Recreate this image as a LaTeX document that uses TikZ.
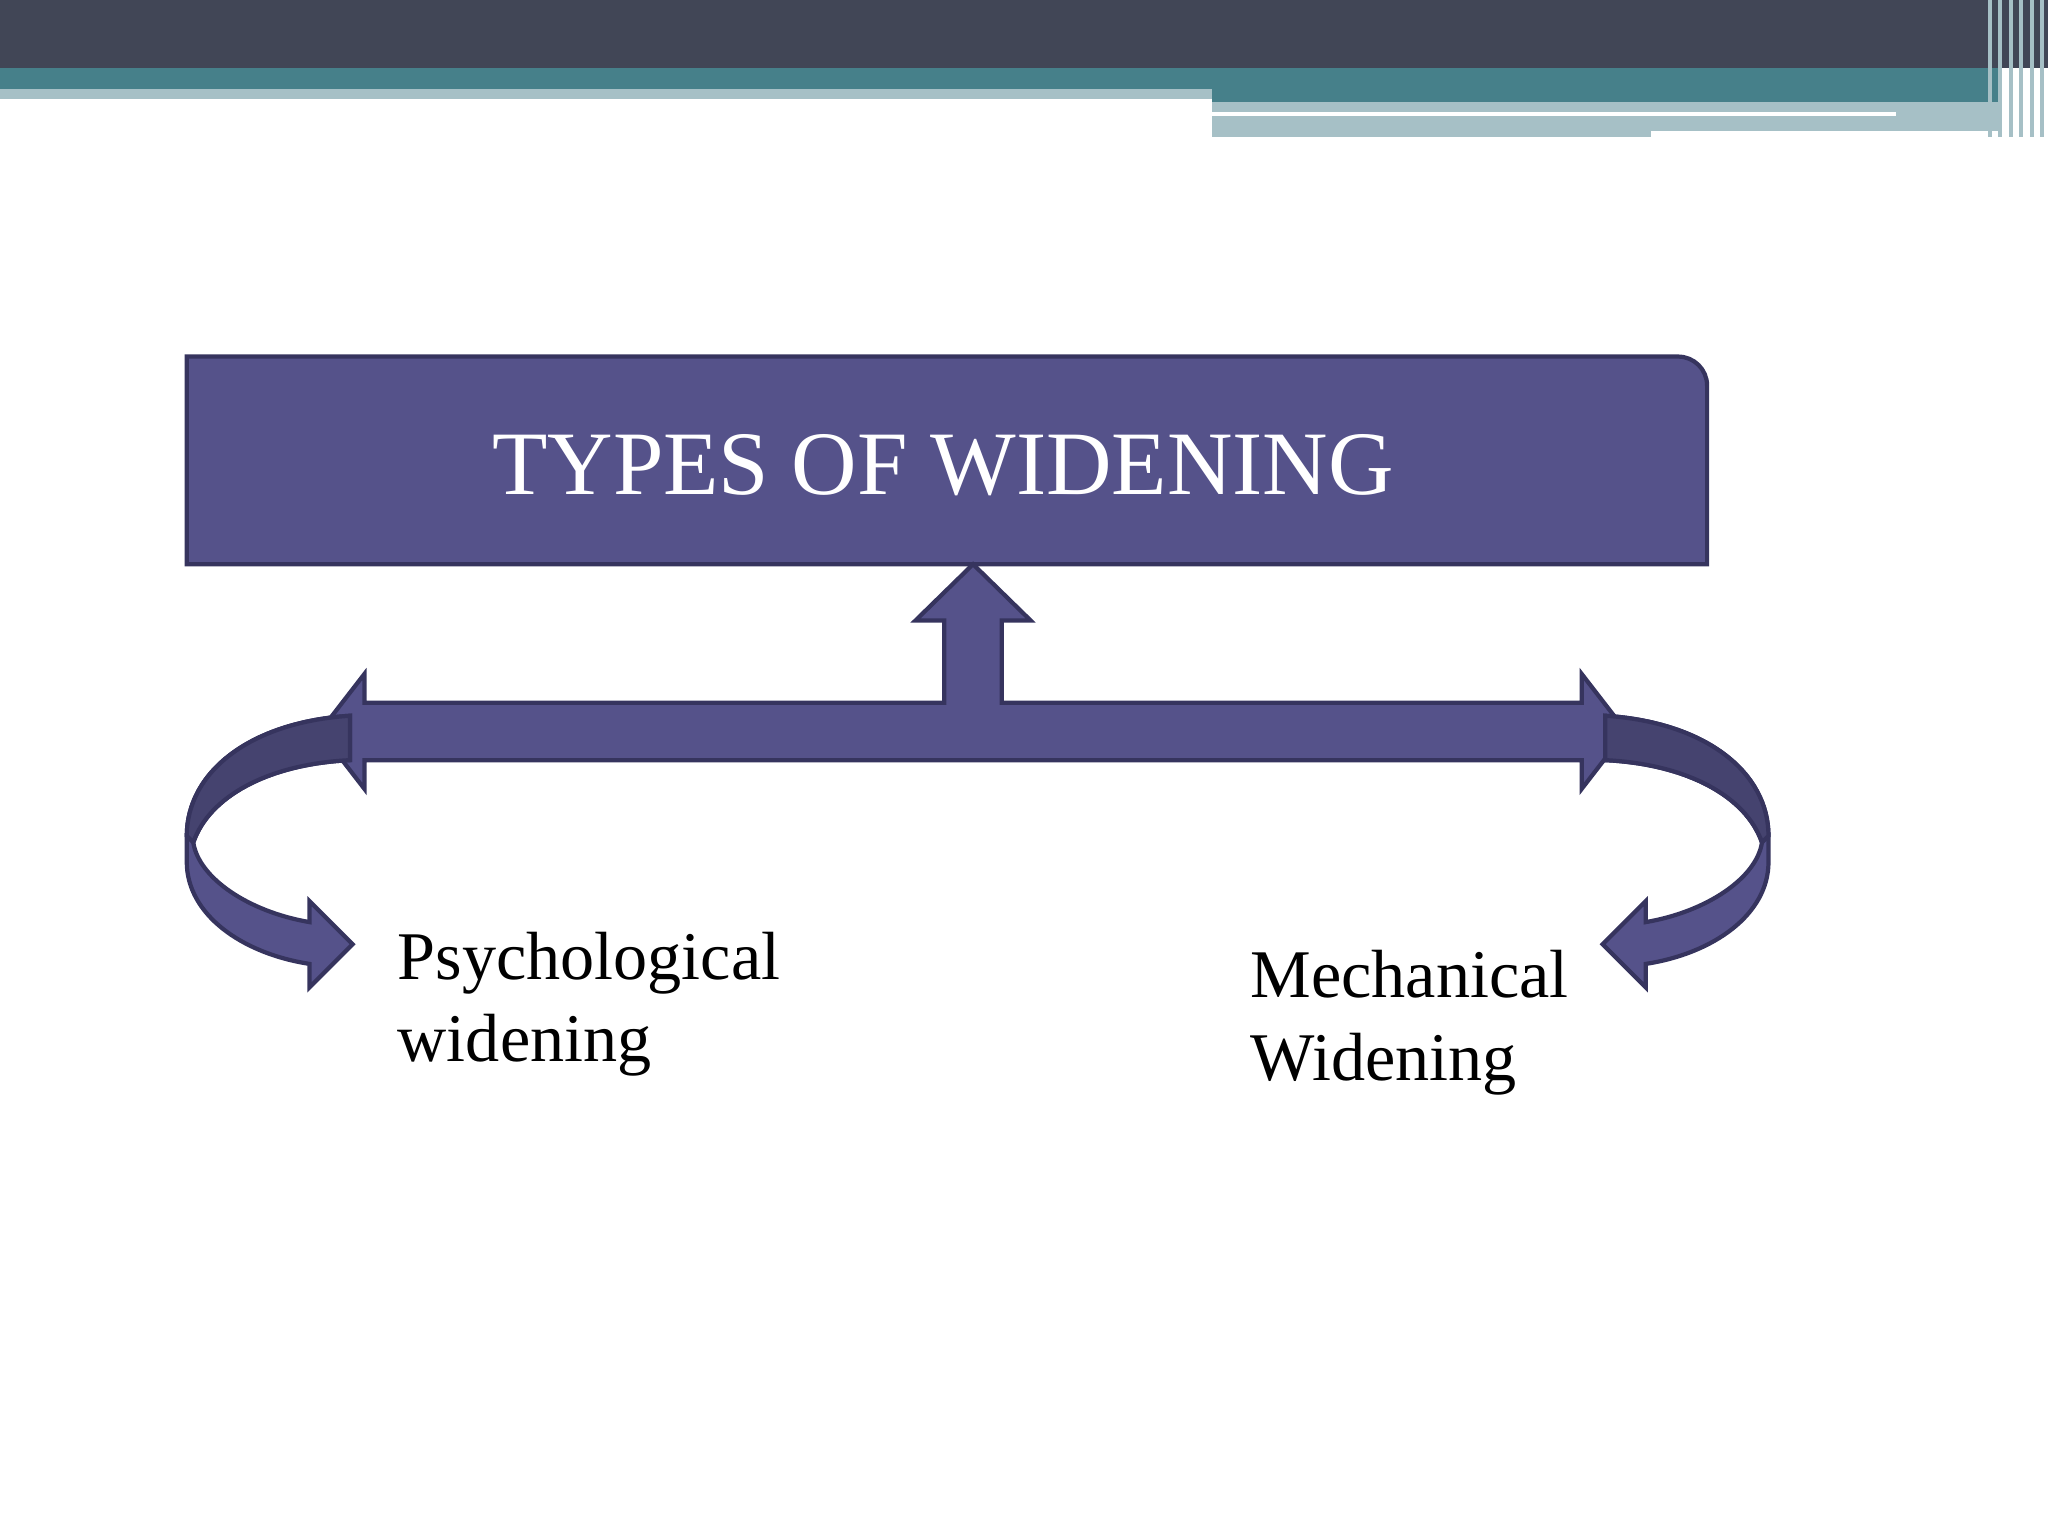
\documentclass[tikz,border=0pt]{standalone}
\usepackage{fontspec}
\setmainfont{Liberation Serif}
\usetikzlibrary{positioning}
\definecolor{slate}{HTML}{414656}
\definecolor{teal}{HTML}{46808A}
\definecolor{pale}{HTML}{A6C0C6}
\definecolor{boxfill}{HTML}{55528A}
\definecolor{boxline}{HTML}{36345E}
\definecolor{darkband}{HTML}{45436F}
\begin{document}
\begin{tikzpicture}[
    x=0.013061cm, y=-0.013061cm,
    band/.style={fill=boxfill, draw=boxline, line width=1.2pt, line join=miter},
    label/.style={anchor=north west, align=left, font=\fontsize{19.4}{23.5}\selectfont, inner sep=0pt}
]
\useasboundingbox (0,0) rectangle (1568,1176);

% Header bands
\fill[slate] (0,0) rectangle (1568,52);
\fill[teal] (0,52) rectangle (1530,68);
\fill[pale] (0,68) rectangle (928,76);
\fill[teal] (928,68) rectangle (1530,78);
\fill[pale] (928,78) rectangle (1530,105);
\fill[white] (928,86) rectangle (1452,89);
\fill[white] (1264,100) rectangle (1530,105);
\foreach \x in {1522,1530,1538,1546,1554,1562}
  \fill[pale] (\x,0) rectangle (\x+3,105);

% Title box
\draw[band] (143,432) -- (143,273) [rounded corners=0.29cm] -- (1307,273) [sharp corners] -- (1307,432) -- cycle;
\node[text=white, font=\fontsize{25.8}{30}\selectfont] (title) at (722,356) {TYPES OF WIDENING};

% Branch arrow
\draw[band] (745,432) -- (789,475) -- (767,475) -- (767,538) -- (1211,538) -- (1211,516)
  -- (1245,560) -- (1211,604) -- (1211,582) -- (279,582) -- (279,604) -- (245,560)
  -- (279,516) -- (279,538) -- (723,538) -- (723,475) -- (701,475) -- cycle;

% Curved arrows
\foreach \s/\o in {1/0, -1/1497} {
  \begin{scope}[xscale=\s, xshift=\o*0.013061cm*\s]
    \draw[band] (268,548) .. controls (190,553) and (143,592) .. (143,640) -- (143,660)
      .. controls (143,700) and (185,730) .. (237,738) -- (237,756) -- (270,723) -- (237,690)
      -- (237,706) .. controls (190,698) and (152,672) .. (148,645)
      .. controls (160,610) and (205,585) .. (268,582) -- cycle;
    \draw[fill=darkband, draw=boxline, line width=1.2pt] (148,645) .. controls (160,610) and (205,585) .. (268,582)
      -- (268,548) .. controls (190,553) and (143,592) .. (143,640) -- cycle;
  \end{scope}
}

% Labels
\node[label] (psych) at (304,713) {Psychological\\widening};
\node[label] (mech) at (957,727) {Mechanical\\Widening};
\end{tikzpicture}
\end{document}
